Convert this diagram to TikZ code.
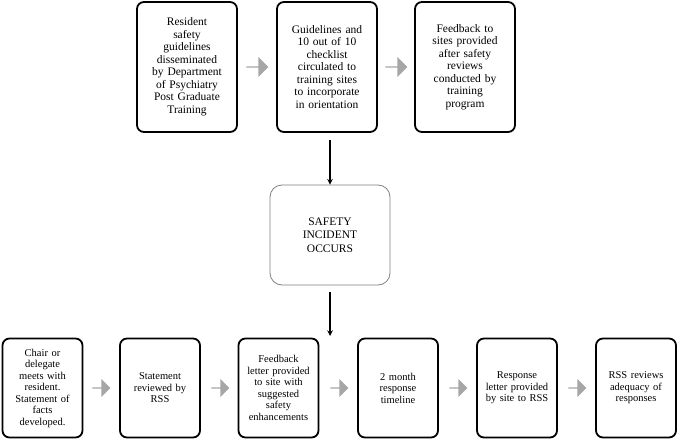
\documentclass[tikz,border=0pt]{standalone}
\usepackage{fontspec}
\setmainfont{Liberation Serif}
\usetikzlibrary{shapes.arrows}
\begin{document}
\begin{tikzpicture}[x=1pt,y=-1pt,
 box/.style={draw=black,line width=1.8pt,rounded corners=7pt,align=center,font=\fontsize{11.5}{12.5}\selectfont,inner sep=2pt},
 ga/.style={single arrow,fill=black!35,draw=none,minimum height=22pt,minimum width=20pt,single arrow head extend=3pt,inner sep=0pt},
 dn/.style={->,line width=1.5pt,>=stealth}]
\useasboundingbox (0,0) rectangle (685,444);
\node[box,minimum width=100pt,minimum height=130pt,text width=92pt] (t1) at (187,67) {Resident\\safety\\guidelines\\disseminated\\by Department\\of Psychiatry\\Post Graduate\\Training};
\node[box,minimum width=100pt,minimum height=130pt,text width=92pt] (t2) at (327,67) {Guidelines and\\10 out of 10\\checklist\\circulated to\\training sites\\to incorporate\\in orientation};
\node[box,minimum width=100pt,minimum height=130pt,text width=92pt] (t3) at (465,67) {Feedback to\\sites provided\\after safety\\reviews\\conducted by\\training\\program};
\node[ga] (a1) at (257,67) {};
\node[ga] (a2) at (396,67) {};
\node[draw=black!50,line width=0.8pt,rounded corners=12pt,minimum width=120pt,minimum height=100pt,align=center,font=\fontsize{11.5}{13.5}\selectfont] (m) at (330,235) {SAFETY\\INCIDENT\\OCCURS};
\coordinate (c1) at (330,140);
\coordinate (c2) at (330,292);
\draw[dn] (c1) -- (m.north);
\draw[dn] (c2) -- (330,336);
\foreach \n/\x/\t in {b1/42.5/{Chair or\\delegate\\meets with\\resident.\\Statement of\\facts\\developed.},
 b2/160/{Statement\\reviewed by\\RSS},
 b3/278.5/{Feedback\\letter provided\\to site with\\suggested\\safety\\enhancements},
 b4/398/{2 month\\response\\timeline},
 b5/517/{Response\\letter provided\\by site to RSS},
 b6/636/{RSS reviews\\adequacy of\\responses}}
 \node[box,minimum width=80pt,minimum height=99pt,text width=76pt,font=\fontsize{10.5}{11.5}\selectfont] (\n) at (\x,388) {\t};
\foreach \x in {101,220,339,458,577} \node[ga,minimum height=18pt,minimum width=18pt] at (\x,388) {};
\end{tikzpicture}
\end{document}
